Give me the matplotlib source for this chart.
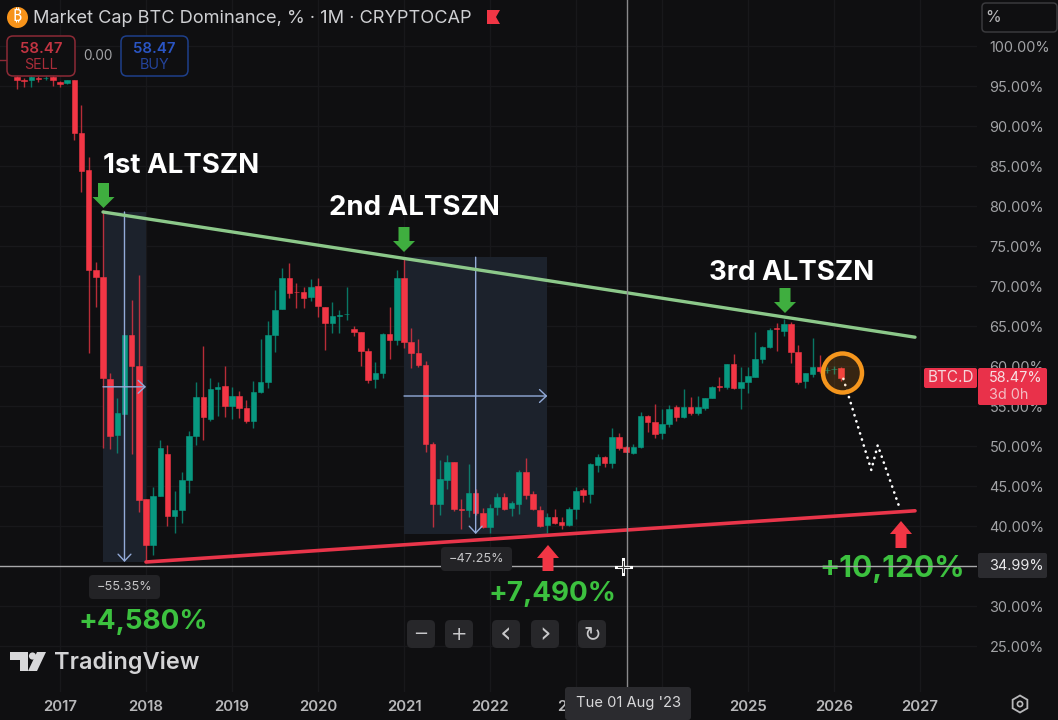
import matplotlib
matplotlib.use("Agg")
import matplotlib.pyplot as plt
from matplotlib.patches import FancyBboxPatch, Circle, Polygon, Rectangle, RegularPolygon

plt.rcParams['font.family'] = ['Inter', 'DejaVu Sans']

# month index 0 = Jan 2017
first_month = -6
opens = [96.1,95.8,95.75,96.0,96.0,96.1,95.5,95.4,95.75,89.1,84.5,72.0,71.1,58.4,51.4,54.0,63.9,60.0,43.4,37.6,43.75,49.0,41.25,42.0,45.75,51.25,56.1,53.4,57.1,57.5,55.0,56.25,54.75,53.1,56.75,58.0,63.9,67.1,71.0,69.3,69.25,68.6,70.0,67.4,65.4,66.3,66.45,64.6,64.25,61.9,58.4,59.1,64.0,63.25,71.0,63.0,61.6,60.1,50.25,42.75,45.75,48.0,42.15,42.0,44.1,41.6,39.9,42.4,43.6,42.25,42.75,46.75,44.0,42.0,40.1,41.1,40.5,40.1,42.1,44.5,44.0,47.6,48.6,47.9,51.1,49.9,49.1,49.9,53.75,53.0,51.6,52.75,54.9,53.6,54.9,54.1,54.75,56.0,57.5,57.4,60.25,57.25,58.0,58.6,60.9,62.4,64.7,64.4,65.25,61.75,58.1,59.0,59.9,59.45,59.6,59.75]
closes = [95.75,95.6,96.1,95.9,96.05,95.75,95.3,95.75,89.1,84.4,72.0,71.1,58.5,51.25,54.1,63.9,60.0,43.25,37.6,43.75,49.75,41.25,42.0,45.75,51.25,56.1,53.6,57.1,57.4,55.0,56.25,54.75,53.1,56.75,58.0,63.9,67.0,71.0,69.1,69.2,68.5,69.9,67.5,65.4,66.25,66.4,66.55,64.25,61.9,58.25,59.1,64.0,63.25,71.0,63.0,61.6,60.1,50.25,42.75,45.9,48.0,42.1,42.05,44.1,41.6,39.9,42.25,43.6,42.1,42.9,46.75,43.9,42.1,40.0,41.1,40.4,40.1,42.1,44.4,43.9,47.75,48.6,47.9,51.1,49.75,49.25,49.9,53.75,53.0,51.5,52.75,54.6,53.6,54.9,54.1,54.9,56.0,57.4,57.4,60.25,57.25,58.0,58.75,60.9,62.4,64.5,64.6,65.25,61.75,58.0,59.1,59.9,59.4,59.5,59.65,58.47]
highs = [96.25,96.0,96.25,96.2,96.2,96.3,95.6,95.8,95.75,92.6,86.1,73.0,79.5,59.1,56.0,63.9,68.25,71.4,43.4,44.9,50.75,50.1,44.4,46.75,51.9,58.0,62.5,58.5,58.0,60.0,57.4,56.9,55.75,58.1,63.4,65.6,69.5,72.25,72.9,70.4,69.9,70.9,71.0,67.4,68.0,67.0,69.9,65.0,64.25,62.25,60.5,64.1,67.4,72.0,73.6,64.75,63.4,60.6,50.5,48.25,48.9,48.0,43.4,47.75,44.6,42.25,42.75,44.1,44.1,43.1,47.0,48.5,44.4,42.5,41.6,42.1,41.1,42.4,44.9,44.75,47.9,49.0,48.7,52.25,51.6,50.0,50.25,54.25,53.9,55.25,54.6,55.1,55.1,57.1,56.1,56.25,56.0,57.5,58.6,60.3,61.5,59.9,59.9,64.25,62.5,64.75,65.4,65.9,65.5,62.6,59.15,63.5,61.4,59.9,60.0,59.9]
lows = [94.6,94.9,94.9,95.5,95.8,95.0,94.9,95.3,88.25,81.7,61.6,67.4,49.75,49.6,49.1,54.0,49.0,41.75,35.5,36.4,43.75,40.0,39.1,40.4,44.1,50.1,50.75,53.1,53.75,53.6,53.4,53.5,52.9,52.25,56.6,57.25,61.75,67.1,68.5,67.25,67.25,68.1,66.1,62.0,64.1,64.1,65.75,63.75,60.0,57.9,57.25,58.5,60.9,62.6,62.25,59.75,59.9,49.25,39.9,41.4,44.6,41.9,39.6,41.1,41.4,39.75,39.1,41.4,42.0,41.25,41.5,43.4,42.0,39.9,39.1,40.25,39.6,40.0,40.9,43.0,42.9,46.75,47.4,47.25,49.5,49.2,49.0,49.8,51.75,51.0,50.9,52.4,53.1,53.5,53.9,53.9,54.5,56.0,56.9,57.1,57.1,54.6,56.6,58.6,60.4,62.3,61.9,63.75,60.4,57.75,57.25,58.6,59.1,59.1,59.0,58.1]

price_ticks = [100,95,90,85,80,75,70,65,60,55,50,45,40,35,30,25]
year_labels = ['2017','2018','2019','2020','2021','2022','2023','2024','2025','2026','2027']

# trend lines and projection, (month, percent)
resist_m, resist_v = [6.0, 119.3], [79.25, 63.6]
support_m, support_v = [12.0, 119.3], [35.5, 41.9]
path_m = [109.3, 113.2, 114.1, 117.1]
path_v = [58.4, 47.0, 50.1, 42.4]
range1 = (6, 12, 35.5, 79.25, 9, 57.4)
range2 = (48, 68, 39.0, 73.6, 58, 56.25)

BG = '#0f0f11'; RED = '#f23645'; GREEN = '#089981'; GRID = '#18181b'; TXT = '#a2a3a6'
LGREEN = '#3cc13f'; ARROW_G = '#3fae3f'

fig = plt.figure(figsize=(10.58, 7.2), dpi=100, facecolor=BG)
ax = fig.add_axes([0, 28/720, 977/1058, 692/720], facecolor=BG)
ax.set_xlim(-8.37, 127.95)
ax.set_ylim(19.25, 105.75)
ax.set_xticks(range(0, 12*len(year_labels), 12), year_labels)
ax.set_yticks(price_ticks, [f'{v:.2f}%' for v in price_ticks])
ax.yaxis.tick_right()
ax.tick_params(length=0, colors=TXT, labelsize=10.4)
ax.tick_params(axis='y', pad=9)
ax.tick_params(axis='x', pad=6, colors='#b8b8ba', labelsize=10.8)
for lab in ax.get_xticklabels():
    lab.set_fontweight('semibold')
ax.get_xticklabels()[year_labels.index('2024')].set_visible(False)
ax.get_yticklabels()[price_ticks.index(35)].set_visible(False)
ax.grid(True, color=GRID, lw=1)
ax.set_axisbelow(True)
for s in ax.spines.values():
    s.set_visible(False)

# measured ranges
for x0, x1, y0, y1, xm, ym in (range1, range2):
    ax.add_patch(Rectangle((x0, y0), x1-x0, y1-y0, fc='#1c222c', ec='none', zorder=1))

# candles
months = list(range(first_month, first_month+len(opens)))
cols = [GREEN if c >= o else RED for o, c in zip(opens, closes)]
ax.vlines(months, lows, highs, colors=cols, lw=1, alpha=.75, zorder=2)
ax.bar(months, [abs(c-o) for o, c in zip(opens, closes)], bottom=[min(o, c) for o, c in zip(opens, closes)],
       width=.78, color=cols, edgecolor=cols, lw=.4, zorder=3)

arrow_c = '#93abd9'
astyle = dict(arrowstyle='->,head_length=.35,head_width=.33', mutation_scale=14, color=arrow_c, lw=1, shrinkA=0, shrinkB=0)
for x0, x1, y0, y1, xm, ym in (range1, range2):
    ax.annotate('', xy=(xm, y0), xytext=(xm, y1), zorder=4, arrowprops=astyle)
    ax.annotate('', xy=(x1, ym), xytext=(x0, ym), zorder=4, arrowprops=astyle)

ax.plot(resist_m, resist_v, color='#8cc88a', lw=2.4, solid_capstyle='round', zorder=5)
ax.plot(support_m, support_v, color='#e8354a', lw=2.6, solid_capstyle='round', zorder=5)
ax.plot(path_m, path_v, color='white', lw=1.9, ls=(0, (.1, 2.3)), dash_capstyle='round', zorder=6)

# overlay in pixel coordinates
ov = fig.add_axes([0, 0, 1, 1], facecolor='none')
ov.set_xlim(0, 1058); ov.set_ylim(720, 0); ov.axis('off')

# the +10,120% caption sits under the crosshair
ax.text(892, 569, '+10,120%', color=LGREEN, fontsize=21.6, fontweight='bold', ha='center', va='center',
        transform=ov.transData, zorder=4)

# crosshair
ax.axvline(79.1, color='#8a8a8c', lw=1, zorder=5)
ax.axhline(34.99, color='#a8a8aa', lw=1, zorder=5)

def box(x0, y0, x1, y1, fc='none', ec='none', r=4, lw=1, z=7):
    ov.add_patch(FancyBboxPatch((x0+r, y0+r), x1-x0-2*r, y1-y0-2*r, boxstyle=f'round,pad={r},rounding_size={r}',
                                fc=fc, ec=ec, lw=lw, zorder=z))

def T(x, y, s, c=TXT, fs=10.4, w='normal', ha='center', z=9, **kw):
    ov.text(x, y, s, color=c, fontsize=fs, fontweight=w, ha=ha, va='center', zorder=z, **kw)

def arrow(xc, tip, down=True, col=ARROW_G, hw=11, sw=5.5, hh=11, total=25):
    d = 1 if down else -1
    ov.add_patch(Polygon([(xc, tip), (xc-hw, tip-d*hh), (xc-sw, tip-d*hh), (xc-sw, tip-d*total),
                          (xc+sw, tip-d*total), (xc+sw, tip-d*hh), (xc+hw, tip-d*hh)], fc=col, ec='none', zorder=8))

arrow(103.5, 208); arrow(404, 252); arrow(785, 313)
arrow(548, 545, down=False, col=RED, total=26, hh=13); arrow(901, 521, down=False, col=RED, total=27, hh=13)

T(181, 166, '1st ALTSZN', 'white', 19.9, 'bold')
T(414.5, 208, '2nd ALTSZN', 'white', 19.9, 'bold')
T(791.5, 273, '3rd ALTSZN', 'white', 19.9, 'bold')
T(143, 622, '+4,580%', LGREEN, 20, 'bold')
T(552, 594, '+7,490%', LGREEN, 20, 'bold')

# orange marker
ov.add_patch(Circle((842.5, 373), 19.5, fc=(.97, .58, .1, .17), ec='#f5961d', lw=3.2, zorder=6))

# range labels
box(89, 575, 160, 599, fc='#232326', r=4)
T(124.5, 587, '\u221255.35%', '#c4c4c6', 9.2)
box(441, 547, 512, 571, fc='#232326', r=4)
T(476.5, 559, '\u221247.25%', '#c4c4c6', 9.2)

# header
ov.add_patch(Circle((17.5, 17.5), 10.5, fc='#f7931a', ec='none', zorder=8))
ov.text(17.5, 17.5, '\u20bf', color='white', fontsize=11.5, fontweight='bold', ha='center', va='center',
        family=['Noto Sans', 'Roboto', 'Open Sans', 'Lato', 'Liberation Sans'], zorder=9)
T(33, 18.5, 'Market Cap BTC Dominance, % \u00b7 1M \u00b7 CRYPTOCAP', '#cfd0d3', 13.1, ha='left')
ov.add_patch(Polygon([(487, 10), (500, 10), (496, 17), (500, 24), (487, 24)], fc=RED, ec='none', zorder=8))

box(7, 36, 75, 76, fc=BG, ec='#8c2a36', r=6, lw=1.1)
T(41, 49, '58.47', '#c23442', 10.8, 'semibold')
T(41, 65, 'SELL', '#a92d3a', 10.3)
box(121, 36, 188, 76, fc=BG, ec='#1e3f8a', r=6, lw=1.1)
T(154.5, 49, '58.47', '#2a55c4', 10.8, 'semibold')
T(154.5, 65, 'BUY', '#24449c', 10.3)
T(97.5, 56.5, '0.00', TXT, 9.8)
ov.plot([0, 6], [60, 60], color='#8c2a36', lw=1, zorder=8)

# percent switch
box(982, 3, 1057, 32, fc=BG, ec='#3a3a3d', r=4, lw=1.1)
T(993, 18, '%', '#b8b8ba', 11.5)

# last price tags
box(924, 368, 977, 388, fc='#e9314a', r=2)
T(950.5, 378, 'BTC.D', '#f5d5d9', 11)
box(978, 368, 1047, 405, fc='#e9314a', r=2)
T(989, 378, '58.47%', '#f7dfe2', 10.4, ha='left')
T(989, 395, '3d 0h', '#f3bcc3', 10.4, ha='left')
box(978, 553, 1047, 578, fc='#2b2b2f', r=2)
T(989, 566.5, '34.99%', '#e8e8ea', 10.4, ha='left')

# date tag and crosshair cursor
box(565, 687, 691, 720, fc='#2b2b2f', r=3)
T(628, 703.5, "Tue 01 Aug '23", '#d8d8da', 10.6)
ov.plot([623, 623], [559, 574], color='white', lw=2.2, zorder=9)
ov.plot([616, 631], [566.5, 566.5], color='white', lw=2.2, zorder=9)
ov.plot([623, 623], [561, 572], color='#333', lw=.8, zorder=10)
ov.plot([618, 629], [566.5, 566.5], color='#333', lw=.8, zorder=10)

# chart controls
for xc, s, fs in zip((421, 459, 506, 545, 592), ('\u2212', '+', '\u2039', '\u203a', '\u21bb'), (13, 14, 21, 21, 15)):
    box(xc-14, 620, xc+14, 648, fc='#27272a', r=5)
    ov.text(xc, 634, s, color='#c8c8ca', fontsize=fs, ha='center', va='center',
            family=['DejaVu Sans'], zorder=9)

# logo
ov.add_patch(Polygon([(10, 652), (28, 652), (28, 671), (20, 671), (20, 660), (10, 660)], fc='#d8d8da', ec='none', zorder=8))
ov.add_patch(Circle((32.5, 656), 3.6, fc='#d8d8da', ec='none', zorder=8))
ov.add_patch(Polygon([(37, 652), (46, 652), (37, 671), (28, 671)], fc='#d8d8da', ec='none', zorder=8))
T(54, 662, 'TradingView', '#d4d4d6', 16.9, 'semibold', ha='left')

# settings gear
ov.add_patch(RegularPolygon((1020, 704), 6, radius=8.5, fc='none', ec='#b8b8ba', lw=1.3, zorder=8))
ov.add_patch(Circle((1020, 704), 2.6, fc='none', ec='#b8b8ba', lw=1.2, zorder=8))

fig.savefig('out.png', dpi=100, facecolor=BG)
